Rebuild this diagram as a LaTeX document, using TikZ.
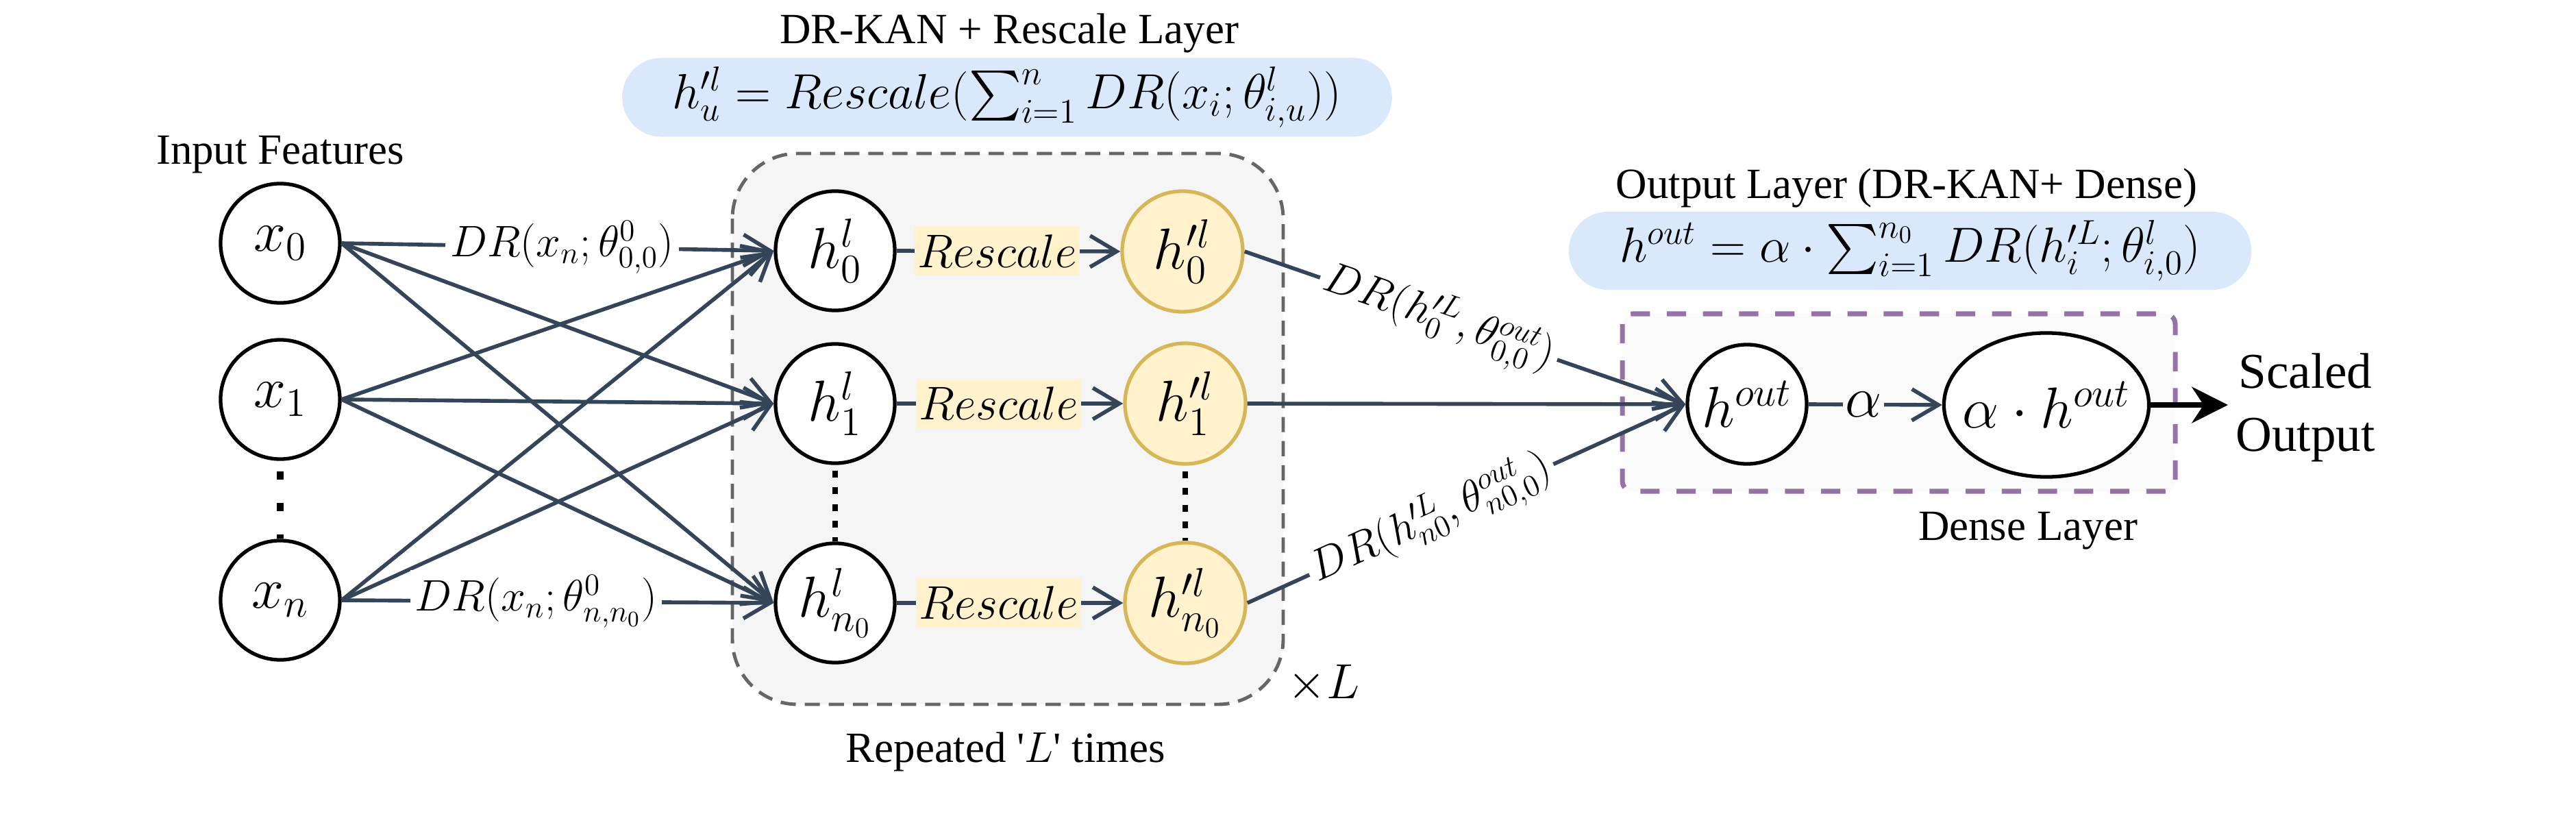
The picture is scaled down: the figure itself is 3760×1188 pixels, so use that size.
\RequirePackage{fix-cm}
\documentclass[tikz,border=0pt]{standalone}
\usepackage{amsmath}
\usepackage{exscale}
\usepackage[no-math]{fontspec}
\setmainfont{Liberation Serif}
\usetikzlibrary{arrows.meta,shapes.geometric,calc}
\definecolor{edgec}{HTML}{34455A}
\definecolor{blueFill}{HTML}{DAE8FC}
\definecolor{grayFill}{HTML}{F5F5F5}
\definecolor{grayDraw}{HTML}{666666}
\definecolor{yellowFill}{HTML}{FFF2CC}
\definecolor{yellowDraw}{HTML}{D6B656}
\definecolor{purpleDraw}{HTML}{9673A6}
\definecolor{purpleFill}{HTML}{FAFAFA}
\begin{document}
\begin{tikzpicture}[x=0.01cm,y=-0.01cm,
  every node/.style={inner sep=0pt},
  txt/.style={font=\fontsize{17.9}{21}\selectfont},
  bigtxt/.style={font=\fontsize{20.8}{26.2}\selectfont},
  nmath/.style={font=\fontsize{24}{28}\selectfont},
  fmath/.style={font=\fontsize{20.5}{25}\selectfont},
  neuron/.style={circle, draw=black, line width=1.5pt, fill=white, minimum size=1.74cm, nmath},
  yneuron/.style={neuron, draw=yellowDraw, fill=yellowFill, minimum size=1.76cm},
  conn/.style={draw=edgec, line width=1.6pt, -{Straight Barb[length=11pt,width=13pt]}},
  elabel/.style={fill=white, inner sep=2pt, font=\fontsize{18.3}{22}\selectfont},
  reslabel/.style={fill=yellowFill, inner xsep=0.04cm, minimum height=0.72cm, font=\fontsize{19.6}{23}\selectfont},
  dotx/.style={line width=2.8pt, dash pattern=on 3.4pt off 9.7pt},
  doth/.style={line width=2.3pt, dash pattern=on 2.85pt off 4.1pt},
  pill/.style={fill=blueFill, rounded corners=0.57cm, fmath},
]
\useasboundingbox (0,0) rectangle (3760,1188);

% background boxes
\draw[grayDraw, fill=grayFill, line width=1.4pt, dash pattern=on 6.3pt off 3.7pt, rounded corners=0.95cm] (1069,224) rectangle (1873,1028);
\draw[purpleDraw, fill=purpleFill, line width=2pt, dash pattern=on 8pt off 7pt, rounded corners=0.15cm] (2368,458) rectangle (3175,717);

% formula pills
\node[pill, minimum width=11.23cm, minimum height=1.15cm] (f1) at (1470,142)
  {$h^{\prime l}_{u} = Rescale(\sum_{i=1}^{n} DR(x_i;\theta^{l}_{i,u}))$};
\node[pill, minimum width=9.96cm, minimum height=1.14cm] (f2) at (2788,366)
  {$h^{out} = \alpha\cdot\sum_{i=1}^{n_0} DR(h^{\prime L}_{i};\theta^{l}_{i,0})$};

% titles
\node[txt] (t1) at (1473,48) {DR-KAN + Rescale Layer};
\node[txt] (t2) at (2783,274) {Output Layer (DR-KAN+ Dense)};
\node[txt] (t3) at (409,226) {Input Features};
\node[txt] (t4) at (2960,775) {Dense Layer};
\node[txt] (t5) at (1468,1097) {Repeated \textquotesingle$L$\textquotesingle{} times};
\node[font=\fontsize{20.5}{24}\selectfont] (xl) at (1932,998) {$\times L$};

% neurons
\node[neuron] (x0) at (409,355) {$x_0$};
\node[neuron] (x1) at (409,583) {$x_1$};
\node[neuron] (xn) at (409,876) {$x_n$};
\node[neuron] (h0) at (1219,366) {$h^{l}_{0}$};
\node[neuron] (h1) at (1219,589) {$h^{l}_{1}$};
\node[neuron] (hn) at (1219,880) {$h^{l}_{n_0}$};
\node[yneuron] (p0) at (1726,367) {$h^{\prime l}_{0}$};
\node[yneuron] (p1) at (1730,589) {$h^{\prime l}_{1}$};
\node[yneuron] (pn) at (1730,880) {$h^{\prime l}_{n_0}$};
\node[neuron] (hout) at (2550,590) {$h^{out}$};
\node[ellipse, draw=black, line width=1.5pt, fill=white, minimum width=2.99cm, minimum height=2.10cm, nmath] (ah) at (2987,591) {\makebox[1.5cm]{$\alpha\cdot h^{out}$}};
\node[bigtxt, anchor=west, align=center, inner xsep=3pt] (so) at (3252,595) {Scaled\\Output};

% dotted continuations
\draw[dotx] ($(x1.south)+(0,15)$) -- (xn.north);
\draw[doth] ($(h1.south)+(0,8)$) -- (hn.north);
\draw[doth] ($(p1.south)+(0,8)$) -- (pn.north);

% input to hidden connections
\draw[conn] (x0.east) -- (h1.west);
\draw[conn] (x0.east) -- (hn.west);
\draw[conn] (x1.east) -- (h0.west);
\draw[conn] (x1.east) -- (h1.west);
\draw[conn] (x1.east) -- (hn.west);
\draw[conn] (xn.east) -- (h0.west);
\draw[conn] (xn.east) -- (h1.west);
\draw[conn] (x0.east) -- node[elabel, pos=0.51] {$DR(x_n;\theta^{0}_{0,0})$} (h0.west);
\draw[conn] (xn.east) -- node[elabel, pos=0.45] {$DR(x_n;\theta^{0}_{n,n_0})$} (hn.west);

% rescale
\draw[conn] (h0.east) -- node[reslabel, pos=0.45] {$Rescale$} (p0.west);
\draw[conn] (h1.east) -- node[reslabel, pos=0.45] {$Rescale$} (p1.west);
\draw[conn] (hn.east) -- node[reslabel, pos=0.45] {$Rescale$} (pn.west);

% to output
\draw[conn] (p0.east) -- node[elabel, sloped, pos=0.44] {$DR(h_0^{\prime L},\theta^{out}_{0,0})$} (hout.west);
\draw[conn] (p1.east) -- (hout.west);
\draw[conn] (pn.east) -- node[elabel, sloped, pos=0.42] {$DR(h^{\prime L}_{n0},\theta^{out}_{n0,0})$} (hout.west);

% dense layer
\draw[conn] (hout.east) -- node[pos=0.41, fill=purpleFill, inner sep=1pt, nmath] {$\alpha$} (ah.west);
\draw[line width=2.2pt, -{Stealth[length=15pt,width=15pt]}] (ah.east) -- (ah.east -| so.west);
\end{tikzpicture}
\end{document}
